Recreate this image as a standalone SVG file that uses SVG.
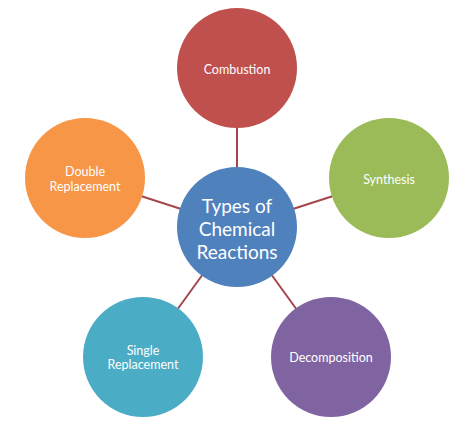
<svg xmlns="http://www.w3.org/2000/svg" width="474" height="425" viewBox="0 0 474 425">
<style>
.conn{stroke:#A3474A;stroke-width:2;fill:none}
.lbl{font-family:Lato,"Open Sans","Liberation Sans",sans-serif;font-size:12.5px;fill:#FFFFFF;text-anchor:middle;dominant-baseline:central}
.big{font-family:Lato,"Open Sans","Liberation Sans",sans-serif;font-size:19px;fill:#FFFFFF;text-anchor:middle;dominant-baseline:central}
</style>
<rect width="474" height="425" fill="#FFFFFF"/>
<g id="connectors">
<line class="conn" x1="237" y1="227" x2="237" y2="68"/>
<line class="conn" x1="237" y1="227" x2="389" y2="178"/>
<line class="conn" x1="237" y1="227" x2="331" y2="357"/>
<line class="conn" x1="237" y1="227" x2="143" y2="357"/>
<line class="conn" x1="237" y1="227" x2="85" y2="178"/>
</g>
<g id="combustion">
<circle cx="237" cy="68" r="60" fill="#C0504D"/>
<text class="lbl" x="237" y="69">Combustion</text>
</g>
<g id="synthesis">
<circle cx="389" cy="178" r="60" fill="#9BBB59"/>
<text class="lbl" x="389" y="179">Synthesis</text>
</g>
<g id="decomposition">
<circle cx="331" cy="357" r="60" fill="#8064A2"/>
<text class="lbl" x="331" y="357">Decomposition</text>
</g>
<g id="single-replacement">
<circle cx="143" cy="357" r="60" fill="#4BACC6"/>
<text class="lbl" x="143" y="350">Single</text>
<text class="lbl" x="143" y="364">Replacement</text>
</g>
<g id="double-replacement">
<circle cx="85" cy="178" r="60" fill="#F79646"/>
<text class="lbl" x="85" y="171">Double</text>
<text class="lbl" x="85" y="186">Replacement</text>
</g>
<g id="center">
<circle cx="237" cy="227" r="60" fill="#4F81BD"/>
<text class="big" x="237" y="205">Types of</text>
<text class="big" x="237" y="228">Chemical</text>
<text class="big" x="237" y="251">Reactions</text>
</g>
</svg>
